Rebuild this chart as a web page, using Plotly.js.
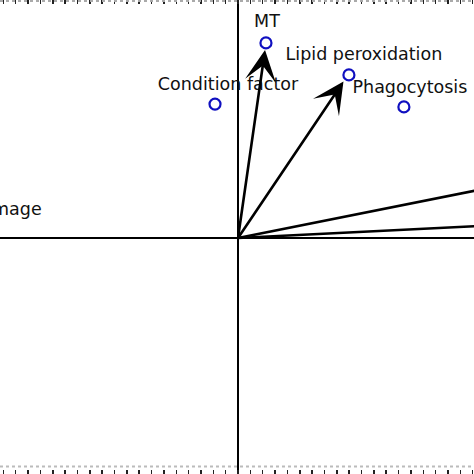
<!DOCTYPE html>
<html>
<head>
<meta charset="utf-8">
<script src="https://cdn.plot.ly/plotly-3.0.1.min.js"></script>
<style>
  html, body { margin: 0; padding: 0; background: #fff; }
  #chart { width: 474px; height: 474px; }
</style>
</head>
<body>
<div id="chart"></div>
<script>
// Variable points (open circles) and their labels
const pointNames = ['MT', 'Lipid peroxidation', 'Phagocytosis', 'Condition factor', 'DNA damage'];
const pointX = [0.118, 0.468, 0.700, -0.097, -1.068];
const pointY = [0.823, 0.688, 0.553, 0.565, 0.038];

// Vectors drawn from the origin
const vectorX = [0.114, 0.445, 1.30, 1.30];
const vectorY = [0.793, 0.660, 0.260, 0.065];

// Scale: 237 px per unit, origin at (238, 238) on the page
const PX = 237;
const X_RANGE = [-238 / PX, 236 / PX];
const Y_RANGE = [-236 / PX, 238 / PX];

// label centre offsets from each point, in pixels (dx right, dy down)
const LABEL_SHIFT = [[1, -20], [15, -19], [6, -18], [13, -18], [-1, -18]];

const FONT = { family: 'DejaVu Sans, Liberation Sans, sans-serif', size: 17.5, color: '#111' };

const traces = [];

// vectors that run off the plot edge: plain lines
vectorX.forEach((vx, i) => {
  if (vx <= X_RANGE[1]) return;
  traces.push({
    x: [0, vx],
    y: [0, vectorY[i]],
    type: 'scatter',
    mode: 'lines',
    line: { color: '#000', width: 2.6 },
    hoverinfo: 'skip',
  });
});

traces.push({
  x: pointX,
  y: pointY,
  type: 'scatter',
  mode: 'markers',
  marker: { symbol: 'circle-open', size: 11, color: '#1010c0', line: { width: 2.2, color: '#1010c0' } },
  text: pointNames,
  hoverinfo: 'text',
});

traces.push({
  x: pointX.map((v, i) => v + LABEL_SHIFT[i][0] / PX),
  y: pointY.map((v, i) => v - LABEL_SHIFT[i][1] / PX),
  type: 'scatter',
  mode: 'text',
  text: pointNames,
  textposition: 'middle center',
  textfont: FONT,
  cliponaxis: true,
  hoverinfo: 'skip',
});

// vectors whose tips are on the plot: arrows
const arrows = [];
vectorX.forEach((vx, i) => {
  if (vx > X_RANGE[1]) return;
  arrows.push({
    x: vx, y: vectorY[i],
    ax: 0, ay: 0,
    xref: 'x', yref: 'y', axref: 'x', ayref: 'y',
    text: '',
    showarrow: true,
    arrowhead: 3,
    arrowsize: 2,
    arrowwidth: 2.6,
    arrowcolor: '#000',
  });
});

const axisBase = {
  showgrid: false,
  zeroline: true,
  zerolinecolor: '#000',
  zerolinewidth: 2.5,
  showticklabels: false,
  fixedrange: true,
};

const layout = {
  width: 474,
  height: 474,
  margin: { l: 0, r: 0, t: 0, b: 0 },
  paper_bgcolor: '#fff',
  plot_bgcolor: '#fff',
  showlegend: false,
  xaxis: {
    ...axisBase,
    range: X_RANGE,
    ticks: 'inside',
    ticklen: 4,
    tickwidth: 1.5,
    tickcolor: '#222',
    tick0: 0,
    dtick: 12.35 / PX,
    mirror: 'ticks',
    showline: false,
  },
  yaxis: { ...axisBase, range: Y_RANGE, ticks: '' },
  annotations: arrows,
  shapes: [
    { type: 'line', xref: 'paper', yref: 'paper', x0: 0, x1: 1, y0: 0.998, y1: 0.998,
      line: { color: '#aaa', width: 2, dash: 'dot' } },
    { type: 'line', xref: 'paper', yref: 'paper', x0: 0, x1: 1, y0: 0.016, y1: 0.016,
      line: { color: '#bbb', width: 2, dash: 'dot' } },
  ],
};

Plotly.newPlot('chart', traces, layout, { displayModeBar: false, staticPlot: true });
</script>
</body>
</html>
